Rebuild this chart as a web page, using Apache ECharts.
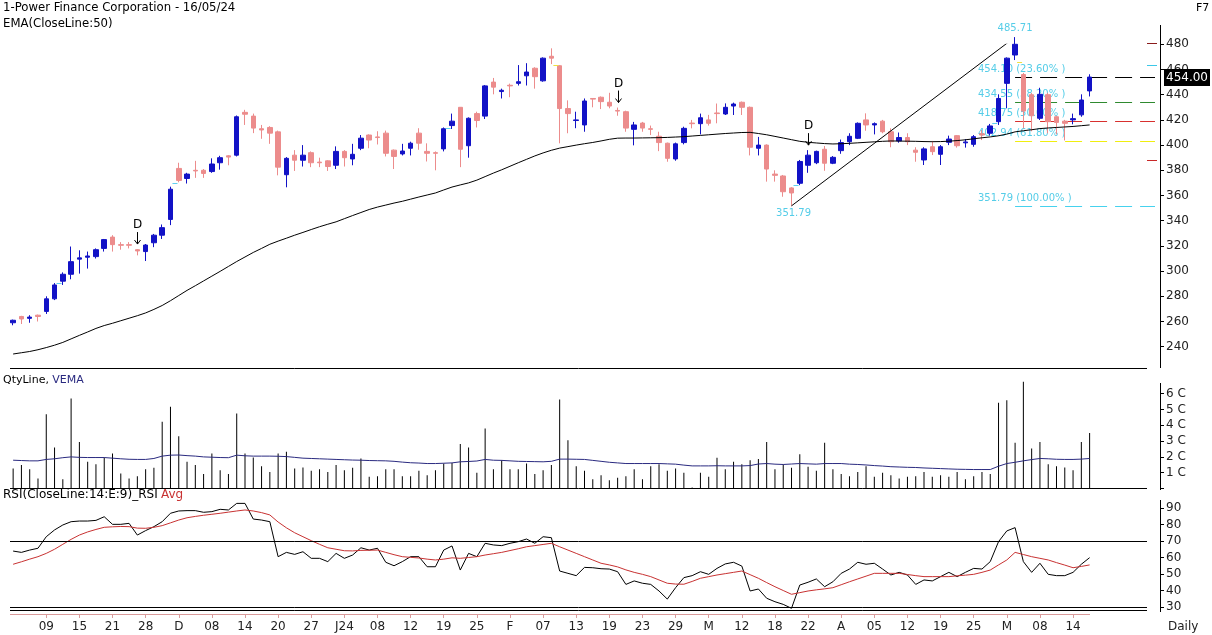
<!DOCTYPE html>
<html>
<head>
<meta charset="utf-8">
<title>Power Finance Corporation - Daily</title>
<script src="https://cdn.jsdelivr.net/npm/echarts@6.0.0/dist/echarts.min.js"></script>
<style>
  html, body { margin: 0; padding: 0; background: #fff; }
  #main { width: 1212px; height: 635px; }
</style>
</head>
<body>
<div id="main"></div>
<script>
// daily candles (131 sessions, 03/11/23 .. 16/05/24)
var openP = [259,264,262.5,265,268,278,292,297.5,309.5,311, 311.5,318,327,321,321,317,315.5,322.5,328.5,341,
  381.5,373.5,380,380,379,386,391.5,392,426,423, 413,414,410.5,376.5,392,388,394,386.5,387.5,384,
  395,389,397.5,408,406.5,409.5,396,393,397.5,409.5, 395,394,397,415.5,430,399.5,425,423,450,442.5,
  447.5,449,455,461,451,470.5,463,429,419.5,416, 437,438,434,427.5,426.5,412.5,417.5,413,407,401.5,
  389,402,417.5,417,420,425.5,424.7,431,434,430, 397.5,400,377,375.5,366,369.7,384,386,396.7,385.6,
  395.6,402.7,405.4,420,416,419,410.6,403.3,406,396, 388.2,398.7,392.7,402.2,407.5,401.8,400.6,409,409.4,418.6,
  449,471.5,456,440,421.3,440,422.5,419,420,424, 443];
var closeP = [261,262,263.5,264,278,289,297.5,307.5,310.5,312, 317,325,321,320.5,320.5,316,320.7,328.5,334.5,365,
  372,377,379.5,377.5,385,390,390.5,422.5,424.5,413.5, 412,409.5,382.5,389.5,388,392,386,386,383,395,
  390,392.7,405.5,404,406,393.5,391,395.3,401.5,401.5, 393.5,393.5,413,419,396.7,421.3,419.5,447,446,443.5,
  447,450.3,458,454.3,469,469,429,425,420,435, 436.5,434.5,431,427,413.5,416,413.5,412.5,402,389.5,
  401,413.3,417,421.7,417.3,425,430,432.6,430,398.3, 400,381,376,363,362,387,392,395,385.6,390.3,
  402,407,417.3,416,417,410.6,402.7,406,402.7,394.3, 397,394.8,398.7,404.8,399.5,402.5,406.7,408,415.2,437,
  469,480,427,423.3,440.3,418.6,418,417.3,421,435.8, 454];
var lowP = [257,258,259,260,266,277,289,293.5,298,302, 310,315.5,315.5,317,318,312.5,308,319,325.5,336.5,
  370.5,369.5,374,374,378,380.5,384,391,416,409.5, 405,401,376,366.5,379.5,383,382.5,382.5,379.5,381,
  383,384,396,397.5,400.5,391,381,391.8,391.8,396.3, 387,380,395,412.8,382.5,390,414,420.7,440.3,437,
  438,447.3,447.3,444.8,450.3,464.3,401.4,409.4,413.4,410.6, 430,428.6,429.2,423.3,410.6,399.8,410.6,408,395.2,386.8,
  387.6,400.6,413.3,408.5,415.5,417.3,423.9,423.9,423.9,391.8, 391.8,371,371,359,351.79,368.2,378,384.9,379.6,384.9,
  393.1,400,404.8,411.4,408.5,409.4,398.3,401.9,400,386.8, 384.2,392.1,384.2,400,398,398,398.7,404,407.5,416,
  429.2,467.5,413.3,411,419.9,409.4,408.5,403.7,416.5,422.5, 438.6];
var highP = [261.5,264.5,265,265.5,280,290.5,299,319.5,316.5,315.5, 318,325.5,328.5,323,323,317.5,321.5,329.5,337,367,
  386,378,387.5,381,389.5,391.5,392,423.5,428,425, 416,415,411.5,390.5,396,400,395,390,388,399,
  396,401,408,408.5,411,411.5,396.5,401,402.7,413.4, 401.4,395,414,425,430,422,426.5,447.7,453.3,444.8,
  448.8,463.5,465,461.8,469.6,476.8,463.5,435.5,426.5,437, 437,438.6,441.5,429.8,427.3,418.4,418.4,415.5,410.6,402,
  402,414.6,420,425,424,433,433.1,433.7,434.6,430.6, 406.5,400.6,380,376.3,366.6,388.2,396,395.6,399.3,391.3,
  404.4,409.4,418,425.2,418,420,413.3,410,409.4,398.3, 398.3,403.3,400,407.5,408,404.8,408,412,416.8,440.3,
  469.6,485.71,457.3,441.5,445.5,441.5,423.3,420,425,440.3, 456.2];

// EMA(close, 50)
var ema50 = [234.2,235.2,236.2,237.6,239.3,241.2,243.4,246.2,249,251.7, 254.5,256.8,258.6,260.6,262.6,264.6,266.8,269.6,272.7,276.5,
  280.6,284.7,288.4,292.2,296,299.8,303.7,307.6,311.2,314.8, 318,321.3,323.8,326.1,328.5,330.7,333,335.2,337.2,339.1,
  341.6,344.1,346.5,348.9,350.8,352.4,354,355.4,357.1,358.8, 360.4,362,364.4,366.7,368.4,370,372.2,375,377.8,380.4,
  383.2,386,388.7,391.4,393.8,395.9,397.6,398.8,400,401.1, 402.1,403.3,404.6,405.5,405.6,405.6,405.7,405.8,405.9,406.1,
  406.4,406.7,407.2,407.7,408.2,408.7,409.2,409.6,410,410.1, 409.2,408.2,406.9,405.6,404.3,403,402.2,401.7,401.2,400.9,
  401.1,401.4,401.8,402.2,402.6,403,403.3,403.2,403.1,403, 402.8,402.7,402.8,403.1,403.6,404.2,405,405.8,406.5,407.4,
  408.7,410.5,411.4,412.2,413.1,413.6,414,414.4,414.8,415.4, 416];

// quantity in crores (C) and its VEMA
var volume = [1.27,1.48,1.22,0.63,4.70,2.59,0.59,5.70,2.95,1.69, 1.54,1.96,2.22,0.95,0.63,0.78,1.22,1.31,4.22,5.17,
  3.31,1.69,1.48,0.91,2.22,1.16,0.91,4.75,2.22,1.96, 1.41,1.05,2.22,2.32,1.27,1.33,1.12,1.22,1.05,1.48,
  1.16,1.31,1.90,0.74,0.78,1.22,1.22,0.78,0.78,1.12, 0.84,1.16,1.58,1.62,2.81,2.59,1.00,3.80,1.22,1.79,
  1.22,1.22,1.58,0.91,1.16,1.48,5.63,3.06,1.41,1.12, 0.59,0.84,0.53,0.68,0.78,1.22,0.59,1.41,1.54,1.12,
  1.27,0.99,0.06,0.99,0.74,1.94,1.22,1.69,1.54,1.79, 1.86,2.95,1.22,1.52,1.31,2.17,1.37,1.12,2.89,1.22,
  0.91,0.78,1.05,1.41,0.74,0.99,0.84,0.63,0.74,0.78, 1.05,0.74,0.84,0.74,1.05,0.59,0.78,1.05,0.91,5.42,
  5.59,2.89,6.75,2.53,2.95,1.54,1.41,1.33,1.16,2.95, 3.52];
var vema = [1.79,1.77,1.75,1.75,1.84,1.88,1.95,2.0,1.97,1.96, 1.96,1.96,1.92,1.88,1.85,1.84,1.84,1.9,2.05,2.11,
  2.12,2.08,2.05,2.0,1.98,1.96,1.95,2.11,2.07,2.05, 2.05,2.05,2.04,2.02,1.97,1.92,1.9,1.88,1.86,1.84,
  1.82,1.8,1.79,1.77,1.76,1.75,1.72,1.67,1.63,1.61, 1.58,1.58,1.6,1.62,1.69,1.71,1.74,1.84,1.79,1.78,
  1.75,1.72,1.71,1.7,1.69,1.72,1.86,1.86,1.85,1.84, 1.78,1.72,1.66,1.62,1.58,1.58,1.58,1.58,1.58,1.56,
  1.54,1.48,1.43,1.43,1.43,1.44,1.43,1.43,1.43,1.45, 1.55,1.58,1.54,1.52,1.55,1.58,1.56,1.54,1.58,1.58,
  1.58,1.54,1.52,1.49,1.45,1.42,1.38,1.36,1.34,1.33, 1.3,1.28,1.26,1.24,1.22,1.21,1.2,1.2,1.2,1.41,
  1.58,1.66,1.75,1.83,1.9,1.88,1.85,1.84,1.84,1.86, 1.9];

// RSI(14) and its 9 EMA
var rsi = [63.9,63.1,64.5,65.6,72.6,76.7,79.7,81.7,82.1,82.1, 82.5,84.7,80.1,80.1,80.7,73.6,76.3,78.7,81.7,86.8,
  88.2,88.4,88.4,87.4,87.8,89.2,88.8,92.8,92.8,83.3, 82.7,81.7,60.5,63.1,61.9,63.5,59.5,59.5,57.5,62.5,
  59.5,61.5,65.9,64.5,65.6,57.1,55,57.5,60.5,60.5, 54.4,54.4,64.5,67,52.4,62.5,60.5,68.6,67.6,67.2,
  68.6,69.6,71.2,68.6,72.6,72,51.8,50.4,49,54, 53.8,53.2,53,51.4,43.7,45.8,44.4,43.7,39.7,34.8,
  41.7,47.8,49,51.4,49.8,53.4,56.1,57.1,54.8,39.7, 40.9,35.3,33.2,31.6,29.2,43.3,45,47,42.3,45.3,
  50.4,53,57.1,55.9,56.5,53,49.4,51,49.4,43.7, 46.4,45.8,48.4,51,48.4,51,53.4,53,57.5,69.6,
  76.1,78.1,57.5,51,56.5,49.8,49,49,51,55.9, 59.9];
var rsiAvg = [55.9,57.4,59,60.5,62.5,65,68,71,73.6,75.5, 77,78.3,78.6,78.8,78.7,77.8,77.7,78.3,79.3,81,
  82.7,84.1,84.9,85.6,86.2,86.8,87.5,88.2,88.8,88.2, 87.2,85.8,81.5,78,75,72.6,70.2,68,65.9,65,
  64.1,64,64.3,64.4,64.5,63.1,61.7,60.5,60.1,59.7, 59,58.5,59,59.8,59.5,60,60.5,61.5,62.3,63.1,
  64.2,65.3,66.5,67.2,67.9,68.6,66.5,64.5,62.5,60.5, 58.5,56.5,55.5,54.3,52.5,51,49.8,48.4,46.4,44.4,
  43.9,43.8,45.5,47.4,48.4,49.4,50.2,51,51.8,49.6, 47.4,44.8,42.3,40,37.7,38.7,39.7,40.4,41,41.7,
  43.5,45.3,47,48.7,50.4,50.4,50.4,50.4,49.7,49, 48.4,48.4,48.4,48.4,48.9,49.3,49.8,51,52.4,55.5,
  58.5,63.1,61.8,60.5,59.5,58.5,56.9,55.4,53.8,54.6, 55.5];

// date labels, one every 4th session starting at the 5th
var tickLabels = ['09','15','21','28','D','08','14','20','27','J24','08','12','19','25','F','07',
  '13','19','23','29','M','12','18','22','A','05','12','19','25','M','08','14'];

// fibonacci retracement from the 351.79 low to the 485.71 high
var swingLow = [94, 351.79];
var swingHigh = [121, 485.71];
var fibLevels = [454.10, 434.55, 418.75, 402.94, 351.79];
var fibPct = ['23.60%', '38.20%', '50.00%', '61.80%', '100.00%'];
var fibColors = ['#000000', '#2f8a2f', '#d8302e', '#f0ee10', '#46d2ee'];

// "D" signals (candle index)
var dMarks = [15, 73, 96];
// small signal ticks: candle index, price, colour
var sigIdx = [5, 19, 52, 94, 118, 65, 121];
var sigPrice = [290.2, 370.2, 413.8, 368.3, 417.3, 463.6, 466.2];
var sigColor = ['#5fd0f0', '#5fd0f0', '#5fd0f0', '#5fd0f0', '#5fd0f0', '#f0e040', '#f0e040'];

var BLUE = '#1212c6';
var PINK = '#ec8c8c';
var FONT = 'DejaVu Sans';
var SLOTS = 139; // empty room on the right of the last candle

var slotNames = [];
for (var i = 0; i < SLOTS; i++) slotNames.push('' + i);
var candles = [];
for (var i = 0; i < openP.length; i++) candles.push([openP[i], closeP[i], lowP[i], highP[i]]);

function showTick(index) {
  return index > 0 && index % 4 === 0 && index / 4 - 1 < tickLabels.length;
}

var chart = echarts.init(document.getElementById('main'));

var hiddenX = function (g) {
  return { type: 'category', gridIndex: g, data: slotNames, boundaryGap: true,
    axisLine: { show: false }, axisTick: { show: false }, axisLabel: { show: false }, splitLine: { show: false } };
};
var rightY = function (g, min, max, interval, fmt) {
  return {
    type: 'value', gridIndex: g, position: 'right', min: min, max: max, interval: interval,
    splitLine: { show: false }, axisLine: { show: false },
    axisTick: { show: true, length: 4, lineStyle: { color: '#000' } },
    axisLabel: { color: '#222', fontSize: 12, fontFamily: FONT, margin: 6, formatter: fmt }
  };
};

var option = {
  animation: false,
  backgroundColor: '#fff',
  textStyle: { fontFamily: FONT },
  grid: [
    { left: 9, width: 1151, top: 44.3, height: 302.4 },
    { left: 9, width: 1151, top: 393.7, height: 94.8 },
    { left: 9, width: 1151, top: 508, height: 99 }
  ],
  xAxis: [
    hiddenX(0),
    hiddenX(1),
    {
      type: 'category', gridIndex: 2, data: slotNames, boundaryGap: true, offset: 7,
      axisLine: { show: false },
      axisTick: { show: true, interval: showTick, alignWithLabel: true, length: 4, lineStyle: { color: '#d99a9a' } },
      axisLabel: {
        interval: showTick, color: '#222', fontSize: 12, fontFamily: FONT, margin: 7,
        formatter: function (v, i) { return tickLabels[i / 4 - 1]; }
      },
      splitLine: { show: false }
    }
  ],
  yAxis: [
    rightY(0, 240, 480, 20),
    rightY(1, 0, 6, 1, function (v) { return v === 0 ? '' : v + ' C'; }),
    rightY(2, 30, 90, 10)
  ],
  series: [
    {
      name: 'Price', type: 'candlestick', xAxisIndex: 0, yAxisIndex: 0, data: candles,
      barWidth: 5, clip: false,
      itemStyle: { color: BLUE, color0: PINK, borderColor: BLUE, borderColor0: PINK, borderWidth: 1 }
    },
    {
      name: 'EMA50', type: 'line', xAxisIndex: 0, yAxisIndex: 0, data: ema50, symbol: 'none', clip: false,
      lineStyle: { color: '#000', width: 1 }
    },
    {
      name: 'Trend', type: 'line', xAxisIndex: 0, yAxisIndex: 0, data: [swingLow, swingHigh], symbol: 'none',
      lineStyle: { color: '#000', width: 1 }
    },
    {
      name: 'QtyLine', type: 'bar', xAxisIndex: 1, yAxisIndex: 1, data: volume, barWidth: 1, clip: false,
      itemStyle: { color: '#000' }
    },
    {
      name: 'VEMA', type: 'line', xAxisIndex: 1, yAxisIndex: 1, data: vema, symbol: 'none',
      lineStyle: { color: '#2a2a80', width: 1 }
    },
    {
      name: 'RSI', type: 'line', xAxisIndex: 2, yAxisIndex: 2, data: rsi, symbol: 'none', clip: false,
      lineStyle: { color: '#000', width: 1 }
    },
    {
      name: 'Avg', type: 'line', xAxisIndex: 2, yAxisIndex: 2, data: rsiAvg, symbol: 'none', clip: false,
      lineStyle: { color: '#c83232', width: 1 }
    }
  ]
};
chart.setOption(option);

// overlays: panel lines, labels, fib levels, signals
function pt(g, idx, v) { return chart.convertToPixel({ gridIndex: g }, [idx, v]); }
function hline(y, x1, x2, color, dash, z) {
  return { type: 'line', z: z || 5, shape: { x1: x1, y1: y, x2: x2, y2: y },
    style: { stroke: color, lineWidth: 1, lineDash: dash || null } };
}
function vline(x, y1, y2) {
  return { type: 'line', z: 5, shape: { x1: x, y1: y1, x2: x, y2: y2 }, style: { stroke: '#000', lineWidth: 1 } };
}
function txt(x, y, s, size, color, align, z) {
  return { type: 'text', x: x, y: y, z: z || 6,
    style: { text: s, fill: color, font: size + 'px "' + FONT + '"', align: align || 'left', verticalAlign: 'middle' } };
}

var els = [];
// titles
els.push(txt(3, 8, '1-Power Finance Corporation - 16/05/24', 11.7, '#000'));
els.push(txt(3, 24, 'EMA(CloseLine:50)', 11.7, '#000'));
els.push(txt(1196, 8, 'F7', 11, '#000'));
els.push({ type: 'text', x: 3, y: 380, z: 6, style: { text: '{a|QtyLine,} {b|VEMA}', verticalAlign: 'middle',
  rich: { a: { fill: '#000', fontSize: 11, fontFamily: FONT }, b: { fill: '#2a2a80', fontSize: 11, fontFamily: FONT } } } });
els.push({ type: 'text', x: 3, y: 495, z: 6, style: { text: '{a|RSI(CloseLine:14:E:9)_RSI} {b|Avg}', verticalAlign: 'middle',
  rich: { a: { fill: '#000', fontSize: 12, fontFamily: FONT }, b: { fill: '#c83232', fontSize: 12, fontFamily: FONT } } } });
els.push(txt(1168, 627, 'Daily', 12, '#222'));

// panel separators and right axis lines
els.push(hline(368.5, 10, 1147, '#000'));
els.push(hline(488.5, 10, 1147, '#000'));
els.push(hline(541.5, 10, 1147, '#000'));
els.push(hline(607.5, 10, 1147, '#000'));
els.push(hline(610.5, 10, 1147, '#000'));
els.push(hline(614.5, 10, 1090, '#d99a9a'));
els.push(vline(1160.5, 25, 368));
els.push(vline(1160.5, 383, 490));
els.push(vline(1160.5, 500, 612));

// small level marks next to the price axis
els.push(hline(43.5, 1147, 1157, '#8a1c1c'));
els.push(hline(65.5, 1147, 1157, '#3cc8e8'));
els.push(hline(160.5, 1147, 1157, '#c82828'));

// fibonacci lines and texts
var fx = pt(0, swingHigh[0], swingHigh[1])[0];
for (var k = 0; k < fibLevels.length; k++) {
  var fy = Math.round(pt(0, 0, fibLevels[k])[1]) + 0.5;
  els.push(hline(fy, fx, 1155, fibColors[k], [17, 8], 1));
  els.push(txt(978, fy - 8, fibLevels[k].toFixed(2) + ' (' + fibPct[k] + ' )', 10, '#55cde8', 'left', 1));
}
var hp = pt(0, swingHigh[0], swingHigh[1]);
els.push(txt(hp[0], hp[1] - 9, swingHigh[1].toFixed(2), 10, '#55cde8', 'center', 1));
var lp = pt(0, swingLow[0], swingLow[1]);
els.push(txt(lp[0] + 2, lp[1] + 8, swingLow[1].toFixed(2), 10, '#55cde8', 'center', 1));

// small signal ticks beside some candles
for (var s = 0; s < sigIdx.length; s++) {
  var sp = pt(0, sigIdx[s], sigPrice[s]);
  els.push(hline(Math.round(sp[1]) + 0.5, sp[0] + 2, sp[0] + 7, sigColor[s], null, 3));
}

// D signals
dMarks.forEach(function (idx) {
  var p = pt(0, idx, highP[idx]);
  var x = Math.round(p[0]) + 0.5, y = p[1];
  els.push(txt(x, y - 24, 'D', 12, '#000', 'center', 10));
  els.push({ type: 'line', z: 10, shape: { x1: x, y1: y - 17, x2: x, y2: y - 5 }, style: { stroke: '#000', lineWidth: 1 } });
  els.push({ type: 'polyline', z: 10, shape: { points: [[x - 3, y - 9], [x, y - 5], [x + 3, y - 9]] },
    style: { stroke: '#000', fill: null, lineWidth: 1 } });
});

// last price box
els.push({ type: 'rect', z: 20, shape: { x: 1164, y: 69, width: 46, height: 17 }, style: { fill: '#000' } });
els.push(txt(1187, 77.5, '454.00', 12, '#fff', 'center', 21));

chart.setOption({ graphic: { elements: els } });
</script>
</body>
</html>
